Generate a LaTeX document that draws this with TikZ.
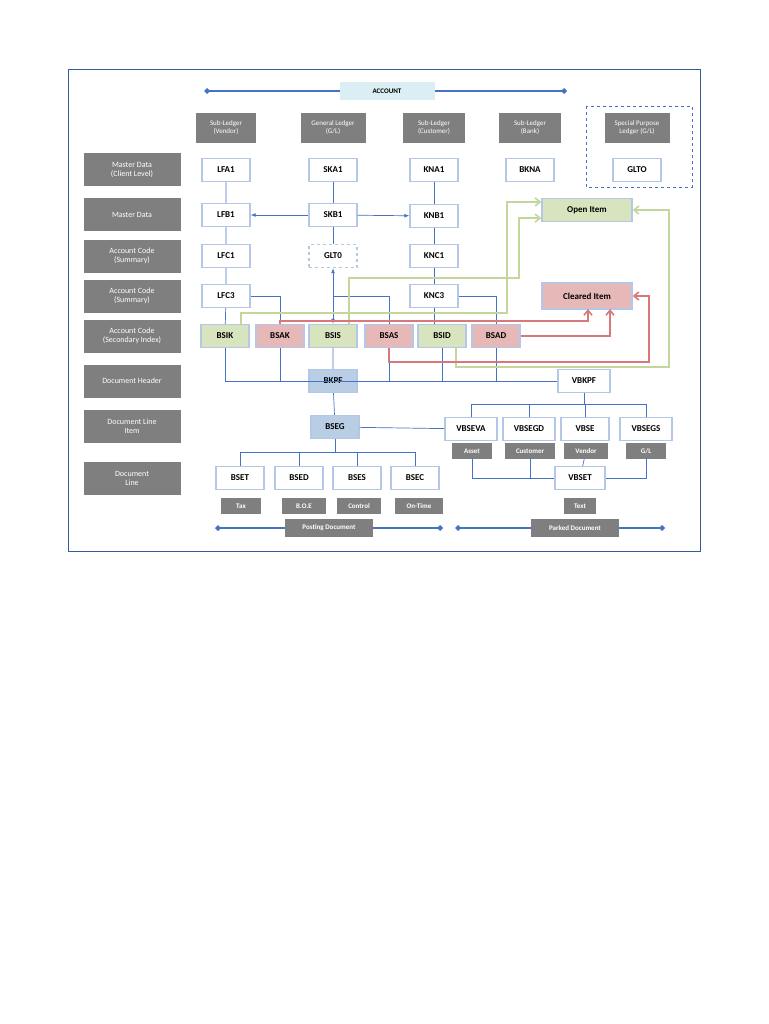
\documentclass[tikz,border=0pt]{standalone}
\usepackage{fontspec}
\setmainfont{Carlito}
\usetikzlibrary{arrows.meta}
\definecolor{gbox}{HTML}{7F7F7F}
\definecolor{bline}{HTML}{4472C4}
\definecolor{bbord}{HTML}{B4C7E7}
\definecolor{gfill}{HTML}{D7E4BD}
\definecolor{gline}{HTML}{C3D69B}
\definecolor{rfill}{HTML}{E6B9B8}
\definecolor{rline}{HTML}{D9787A}
\definecolor{kfill}{HTML}{B9CDE5}
\definecolor{afill}{HTML}{DBEEF4}
\tikzset{
  lab/.style={fill=gbox, text=white, font=\fontsize{7}{8}\selectfont, align=center, inner sep=1pt, minimum height=30pt},
  side/.style={lab, minimum width=97pt, minimum height=33pt, font=\fontsize{8}{9}\selectfont},
  tag/.style={fill=gbox, text=white, font=\fontsize{7}{8}\selectfont\bfseries, inner sep=1pt, minimum height=16pt},
  tbl/.style={draw=bbord, line width=1.3pt, fill=white, font=\fontsize{9}{10}\selectfont\bfseries, minimum width=48pt, minimum height=23pt, inner sep=1pt},
  grn/.style={tbl, fill=gfill},
  red/.style={tbl, fill=rfill},
  key/.style={tbl, fill=kfill},
  con/.style={draw=bline, line width=0.7pt},
  gcon/.style={draw=gline, line width=1.6pt, -{Straight Barb[length=5pt,width=8pt]}},
  rcon/.style={draw=rline, line width=1.6pt, -{Straight Barb[length=5pt,width=8pt]}},
  bar/.style={draw=bline, line width=1.8pt, {Diamond[length=6pt,width=6pt]}-{Diamond[length=6pt,width=6pt]}}
}
\begin{document}
\begin{tikzpicture}[x=1pt,y=-1pt]
  \useasboundingbox (0,0) rectangle (768,1024);
  \fill[white] (0,0) rectangle (768,1024);
  \draw[draw=bline!80!black, line width=1pt] (68,70) rectangle (700,551);
  % top bar
  \coordinate (al) at (204,91);
  \coordinate (ar) at (567,91);
  \draw[bar] (al) -- (ar);
  \node[fill=afill, font=\fontsize{7}{8}\selectfont\bfseries, minimum width=95pt, minimum height=18pt] (acc) at (387,91) {ACCOUNT};
  % ledger headers
  \node[lab, minimum width=60pt] (h1) at (226,128) {Sub-Ledger\\(Vendor)};
  \node[lab, minimum width=65pt] (h2) at (333,128) {General Ledger\\(G/L)};
  \node[lab, minimum width=62pt] (h3) at (434,128) {Sub-Ledger\\(Customer)};
  \node[lab, minimum width=62pt] (h4) at (530,128) {Sub-Ledger\\(Bank)};
  \node[lab, minimum width=65pt] (h5) at (637,128) {Special Purpose\\Ledger (G/L)};
  \draw[bline, dashed, line width=0.7pt] (586,106) rectangle (692,187);
  % side labels
  \node[side] (s1) at (132,170) {Master Data\\(Client Level)};
  \node[side] (s2) at (132,215) {Master Data};
  \node[side] (s3) at (132,256) {Account Code\\(Summary)};
  \node[side] (s4) at (132,296) {Account Code\\(Summary)};
  \node[side] (s5) at (132,336) {Account Code\\(Secondary Index)};
  \node[side] (s6) at (132,381) {Document Header};
  \node[side] (s7) at (132,426) {Document Line\\Item};
  \node[side] (s8) at (132,478) {Document\\Line};
  % tables
  \node[tbl] (lfa1) at (226,170) {LFA1};
  \node[tbl] (ska1) at (333,170) {SKA1};
  \node[tbl] (kna1) at (434,170) {KNA1};
  \node[tbl] (bkna) at (530,170) {BKNA};
  \node[tbl] (glto) at (637,170) {GLTO};
  \node[tbl] (lfb1) at (226,215) {LFB1};
  \node[tbl] (skb1) at (333,215) {SKB1};
  \node[tbl] (knb1) at (434,216) {KNB1};
  \node[tbl] (lfc1) at (226,256) {LFC1};
  \node[tbl, dashed] (glt0) at (333,256) {GLT0};
  \node[tbl] (knc1) at (434,256) {KNC1};
  \node[tbl] (lfc3) at (226,296) {LFC3};
  \node[tbl] (knc3) at (434,296) {KNC3};
  \node[grn, minimum width=90pt] (open) at (587,210) {Open Item};
  \node[red, minimum width=90pt, minimum height=26pt] (clr) at (587,296) {Cleared Item};
  \node[grn] (bsik) at (225,336) {BSIK};
  \node[red] (bsak) at (280,336) {BSAK};
  \node[grn] (bsis) at (333,336) {BSIS};
  \node[red] (bsas) at (389,336) {BSAS};
  \node[grn] (bsid) at (442,336) {BSID};
  \node[red] (bsad) at (496,336) {BSAD};
  \node[key] (bkpf) at (333,381) {BKPF};
  \node[tbl, minimum width=52pt] (vbkpf) at (584,381) {VBKPF};
  \node[key] (bseg) at (335,427) {BSEG};
  \node[tbl, minimum width=52pt] (vbseva) at (471,429) {VBSEVA};
  \node[tbl, minimum width=52pt] (vbsegd) at (529,429) {VBSEGD};
  \node[tbl, minimum width=48pt] (vbse) at (585,429) {VBSE};
  \node[tbl, minimum width=52pt] (vbsegs) at (646,429) {VBSEGS};
  \node[tag, minimum width=40pt] (tas) at (472,451) {Asset};
  \node[tag, minimum width=50pt] (tcu) at (530,451) {Customer};
  \node[tag, minimum width=44pt] (tve) at (586,451) {Vendor};
  \node[tag, minimum width=40pt] (tgl) at (646,451) {G/L};
  \node[tbl] (bset) at (240,478) {BSET};
  \node[tbl] (bsed) at (299,478) {BSED};
  \node[tbl] (bses) at (357,478) {BSES};
  \node[tbl] (bsec) at (415,478) {BSEC};
  \node[tbl, minimum width=50pt] (vbset) at (580,478) {VBSET};
  \node[tag, minimum width=40pt] (ttx) at (241,506) {Tax};
  \node[tag, minimum width=44pt] (tbo) at (304,506) {B.O.E};
  \node[tag, minimum width=44pt] (tco) at (359,506) {Control};
  \node[tag, minimum width=48pt] (tot) at (419,506) {On-Time};
  \node[tag, minimum width=32pt] (tte) at (580,506) {Text};
  % bottom bars
  \coordinate (pl) at (215,528);
  \coordinate (pr) at (443,528);
  \coordinate (ql) at (455,528);
  \coordinate (qr) at (665,528);
  \draw[bar] (pl) -- (pr);
  \draw[bar] (ql) -- (qr);
  \node[tag, minimum width=88pt, minimum height=18pt] (post) at (329,528) {Posting Document};
  \node[tag, minimum width=88pt, minimum height=18pt] (park) at (575,528) {Parked Document};
  % master data links
  \draw[con] (lfa1) -- (lfb1) -- (lfc1) -- (lfc3) -- (bsik);
  \draw[con] (ska1) -- (skb1) -- (glt0);
  \draw[con] (kna1) -- (knb1) -- (knc1) -- (knc3) -- (knc3 |- bsid.north);
  \draw[con, -{Latex[length=5pt]}] (skb1) -- (lfb1);
  \draw[con, -{Latex[length=5pt]}] (skb1) -- (knb1);
  \draw[con, {Latex[length=5pt]}-{Latex[length=5pt]}] (glt0) -- (bsis);
  \draw[con] (lfc3) -| (bsak);
  \draw[con] (knc3) -| (bsad);
  \draw[con] (bsis |- lfc3) -| (bsas);
  % header bus
  \draw[con] (bsik) |- (vbkpf);
  \draw[con] (bsak) -- (bsak |- bkpf);
  \draw[con] (bsas) -- (bsas |- bkpf);
  \draw[con] (bsid) -- (bsid |- bkpf);
  \draw[con] (bsad) -- (bsad |- bkpf);
  \draw[con] (bsis) -- (bkpf) -- (bseg);
  \draw[con] (bseg) -- (vbseva);
  % line item tree
  \coordinate (pb) at (335,452);
  \draw[con] (bseg) -- (pb);
  \foreach \n in {bset,bsed,bses,bsec} \draw[con] (pb) -| (\n);
  \coordinate (vb) at (584,404);
  \draw[con] (vbkpf) -- (vb);
  \foreach \n in {vbseva,vbsegd,vbse,vbsegs} \draw[con] (vb) -| (\n);
  \draw[con] (tas) |- (vbset);
  \draw[con] (tgl) |- (vbset);
  \draw[con] (tcu) -- (tcu |- vbset);
  \draw[con] (tve) -- (vbset);
  % open / cleared links
  \draw[gcon] ([xshift=16pt]bsik.north) |- (507,313) |- (open.170);
  \draw[gcon] ([xshift=16pt]bsis.north) |- (519,278) |- (open.190);
  \draw[gcon] ([xshift=14pt]bsid.south) |- (669,367) |- (open.east);
  \draw[rcon] (bsak.north) |- (588,321) -- (588,309);
  \draw[rcon] (bsad.east) -- (610,336) -- (610,309);
  \draw[rcon] (bsas.south) |- (649,362) |- (clr.east);
\end{tikzpicture}
\end{document}
